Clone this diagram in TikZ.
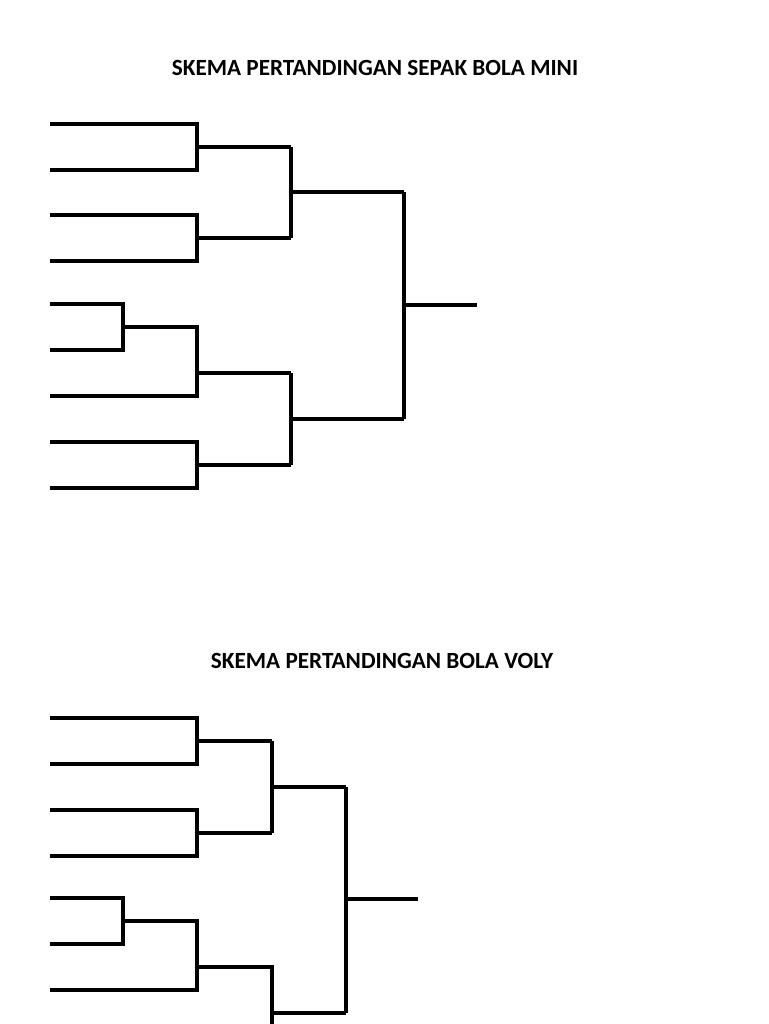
\documentclass[tikz,border=0pt]{standalone}
\usepackage{fontspec}
\setmainfont{Carlito}
\begin{document}
\begin{tikzpicture}[x=1pt,y=-1pt,br/.style={line width=4pt,line join=miter},title/.style={font=\bfseries\fontsize{23.2}{26}\selectfont}]
\useasboundingbox (0,0) rectangle (768,1024);
\clip (0,0) rectangle (768,1024);
\node[title] (t1) at (375,68) {SKEMA PERTANDINGAN SEPAK BOLA MINI};
\node[title] (t2) at (382,661) {SKEMA PERTANDINGAN BOLA VOLY};
% top bracket
\draw[br] (50,124) -- (197,124) -- (197,170) -- (50,170);
\draw[br] (197,147) -- (291,147);
\draw[br] (50,215) -- (197,215) -- (197,261) -- (50,261);
\draw[br] (197,238) -- (291,238);
\draw[br] (291,147) -- (291,238);
\draw[br] (291,192) -- (404,192);
\draw[br] (50,304) -- (123,304) -- (123,350) -- (50,350);
\draw[br] (123,327) -- (197,327) -- (197,396) -- (50,396);
\draw[br] (197,373) -- (291,373);
\draw[br] (50,442) -- (197,442) -- (197,488) -- (50,488);
\draw[br] (197,465) -- (291,465);
\draw[br] (291,373) -- (291,465);
\draw[br] (291,419) -- (404,419);
\draw[br] (404,192) -- (404,419);
\draw[br] (404,305) -- (477,305);
% bottom bracket
\draw[br] (50,718) -- (197,718) -- (197,764) -- (50,764);
\draw[br] (197,741) -- (272,741);
\draw[br] (50,810) -- (197,810) -- (197,856) -- (50,856);
\draw[br] (197,833) -- (272,833);
\draw[br] (272,741) -- (272,833);
\draw[br] (272,787) -- (346,787);
\draw[br] (50,898) -- (123,898) -- (123,944) -- (50,944);
\draw[br] (123,921) -- (197,921) -- (197,990) -- (50,990);
\draw[br] (197,967) -- (272,967) -- (272,1030);
\draw[br] (272,1013) -- (346,1013);
\draw[br] (346,787) -- (346,1013);
\draw[br] (346,899) -- (418,899);
\end{tikzpicture}
\end{document}
